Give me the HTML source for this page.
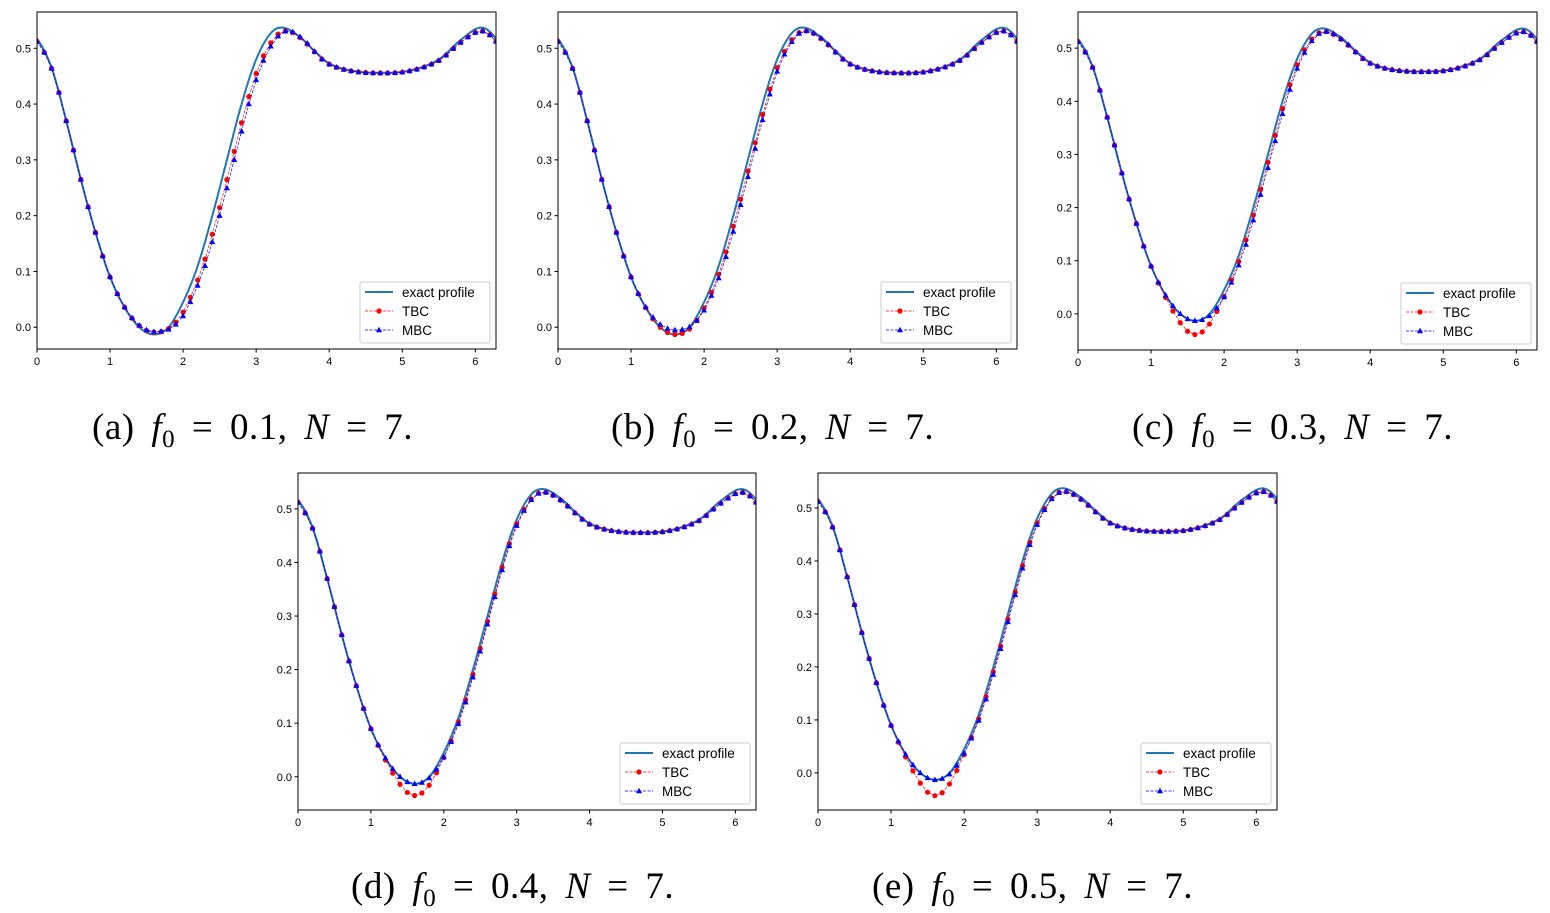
<!DOCTYPE html>
<html><head><meta charset="utf-8"><style>
body{margin:0;background:#fff;width:1550px;height:911px;overflow:hidden}
svg{position:absolute;left:0;top:0}
.cap{position:absolute;font-family:"Liberation Serif",serif;font-size:37px;color:#000;white-space:nowrap;word-spacing:7px;letter-spacing:0.5px}
.cap i{font-style:italic}
.cap sub{font-size:25px;vertical-align:-8px}
</style></head><body>
<svg id="s" width="1550" height="911" xmlns="http://www.w3.org/2000/svg"></svg>
<div class="cap" style="left:92px;top:406px">(a) <i>f</i><sub>0</sub> = 0.1, <i>N</i> = 7.</div>
<div class="cap" style="left:611px;top:406px">(b) <i>f</i><sub>0</sub> = 0.2, <i>N</i> = 7.</div>
<div class="cap" style="left:1132px;top:406px">(c) <i>f</i><sub>0</sub> = 0.3, <i>N</i> = 7.</div>
<div class="cap" style="left:351px;top:865px">(d) <i>f</i><sub>0</sub> = 0.4, <i>N</i> = 7.</div>
<div class="cap" style="left:872px;top:865px">(e) <i>f</i><sub>0</sub> = 0.5, <i>N</i> = 7.</div>
<script>
var P=2*Math.PI;
var K=[[0,0.517],[0.2,0.465],[0.4,0.37],[0.6,0.265],[0.8,0.17],[1.0,0.09],[1.2,0.035],[1.4,0.0],[1.6,-0.013],[1.8,0.0],[2.0,0.045],[2.2,0.11],[2.4,0.2],[2.6,0.3],[2.8,0.4],[3.0,0.48],[3.2,0.527],[3.37,0.537],[3.6,0.52],[3.8,0.495],[4.0,0.473],[4.3,0.46],[4.7,0.456],[5.1,0.46],[5.5,0.48],[5.8,0.515],[6.08,0.537]];
function ex(x){x=((x%P)+P)%P;var n=K.length;var i=n-1;for(var j=0;j<n;j++){if(K[j][0]>x){i=j-1;break;}}
 if(i<0)i=n-1;
 function g(k){var kk=((k%n)+n)%n;var off=Math.floor(k/n)*P;return [K[kk][0]+off,K[kk][1]];}
 var p0=g(i-1),p1=g(i),p2=g(i+1),p3=g(i+2);
 if(x<p1[0])x+=P;
 var t=(x-p1[0])/(p2[0]-p1[0]);
 var m1=(p2[1]-p0[1])/(p2[0]-p0[0])*(p2[0]-p1[0]);
 var m2=(p3[1]-p1[1])/(p3[0]-p1[0])*(p2[0]-p1[0]);
 var t2=t*t,t3=t2*t;
 return (2*t3-3*t2+1)*p1[1]+(t3-2*t2+t)*m1+(-2*t3+3*t2)*p2[1]+(t3-t2)*m2;}
function sm(x){
 if(x<1.5)return 0; if(x<2.0)return (x-1.5)/0.5; if(x<3.4)return 1; if(x<3.9)return 1-(x-3.4)/0.5; return 0;}
var panels=[
{L:37,T:12,W:459,H:337,y0:-0.039,y1:0.565,sT:0.07,sM:0.1,dT:0.004,dM:0.005},
{L:558,T:12,W:459,H:337,y0:-0.039,y1:0.565,sT:0.04,sM:0.06,dT:0,dM:0.008},
{L:1078,T:12,W:459,H:338,y0:-0.068,y1:0.568,sT:0.03,sM:0.05,dT:-0.026,dM:0},
{L:298,T:473,W:458,H:337,y0:-0.062,y1:0.567,sT:0.02,sM:0.03,dT:-0.022,dM:0},
{L:818,T:473,W:459,H:337,y0:-0.070,y1:0.566,sT:0.02,sM:0.03,dT:-0.03,dM:0}];
var h='';
panels.forEach(function(p){
 function X(x){return p.L+x/P*p.W;} function Y(y){return p.T+p.H*(p.y1-y)/(p.y1-p.y0);}
 h+='<defs><clipPath id="c'+p.L+p.T+'"><rect x="'+p.L+'" y="'+p.T+'" width="'+p.W+'" height="'+p.H+'"/></clipPath></defs>';
 h+='<g clip-path="url(#c'+p.L+p.T+')">';
 var d='';for(var i=0;i<=400;i++){var x=i/400*P;d+=(i?'L':'M')+X(x).toFixed(1)+' '+Y(ex(x)).toFixed(1);}
 h+='<path d="'+d+'" fill="none" stroke="#1f77b4" stroke-width="2"/>';
 function ser(s,dip,col,tri){var pts=[];for(var i=0;i<=63;i++){var x=i*0.1;if(x>P)x=P;var v=ex(x-s*sm(x));v=0.45+(v-0.45)*(v>0.45?0.93:1);v+=dip*Math.exp(-Math.pow((x-1.6)/0.3,2));pts.push([X(x),Y(v)]);}
  var dd='';pts.forEach(function(q,i){dd+=(i?'L':'M')+q[0].toFixed(1)+' '+q[1].toFixed(1);});
  h+='<path d="'+dd+'" fill="none" stroke="'+col+'" stroke-width="0.7" stroke-dasharray="3 1.5"/>';
  pts.forEach(function(q){if(tri)h+='<polygon points="'+q[0]+','+(q[1]-3.3)+' '+(q[0]-3)+','+(q[1]+2.2)+' '+(q[0]+3)+','+(q[1]+2.2)+'" fill="blue"/>';else h+='<circle cx="'+q[0]+'" cy="'+q[1]+'" r="2.6" fill="red"/>';});}
 ser(p.sT,p.dT,'red',false);ser(p.sM,p.dM,'blue',true);
 h+='</g>';
 h+='<rect x="'+p.L+'" y="'+p.T+'" width="'+p.W+'" height="'+p.H+'" fill="none" stroke="#000" stroke-width="1"/>';
 for(var k=0;k<=6;k++){var x=X(k);h+='<line x1="'+x+'" y1="'+(p.T+p.H)+'" x2="'+x+'" y2="'+(p.T+p.H+3.5)+'" stroke="#000"/><text x="'+x+'" y="'+(p.T+p.H+16)+'" font-size="11" text-anchor="middle" font-family="Liberation Sans,sans-serif">'+k+'</text>';}
 for(var k=0;k<=5;k++){var y=Y(k/10);h+='<line x1="'+(p.L-3.5)+'" y1="'+y+'" x2="'+p.L+'" y2="'+y+'" stroke="#000"/><text x="'+(p.L-6)+'" y="'+(y+4)+'" font-size="11" text-anchor="end" font-family="Liberation Sans,sans-serif">'+(k/10).toFixed(1)+'</text>';}
 var lx=p.L+p.W-136,ly=p.T+p.H-67;
 h+='<rect x="'+lx+'" y="'+ly+'" width="130" height="61" rx="2" fill="#fff" stroke="#ccc"/>';
 h+='<line x1="'+(lx+5)+'" y1="'+(ly+10)+'" x2="'+(lx+33)+'" y2="'+(ly+10)+'" stroke="#1f77b4" stroke-width="2"/>';
 h+='<line x1="'+(lx+5)+'" y1="'+(ly+29)+'" x2="'+(lx+33)+'" y2="'+(ly+29)+'" stroke="red" stroke-width="0.7" stroke-dasharray="3 1.5"/><circle cx="'+(lx+19)+'" cy="'+(ly+29)+'" r="2.6" fill="red"/>';
 h+='<line x1="'+(lx+5)+'" y1="'+(ly+48)+'" x2="'+(lx+33)+'" y2="'+(ly+48)+'" stroke="blue" stroke-width="0.7" stroke-dasharray="3 1.5"/><polygon points="'+(lx+19)+','+(ly+44.7)+' '+(lx+16)+','+(ly+50.2)+' '+(lx+22)+','+(ly+50.2)+'" fill="blue"/>';
 var tf=' font-size="13.5" font-family="Liberation Sans,sans-serif"';
 h+='<text x="'+(lx+42)+'" y="'+(ly+15)+'"'+tf+'>exact profile</text><text x="'+(lx+42)+'" y="'+(ly+34)+'"'+tf+'>TBC</text><text x="'+(lx+42)+'" y="'+(ly+53)+'"'+tf+'>MBC</text>';
});
document.getElementById('s').innerHTML=h;
</script>
</body></html>
